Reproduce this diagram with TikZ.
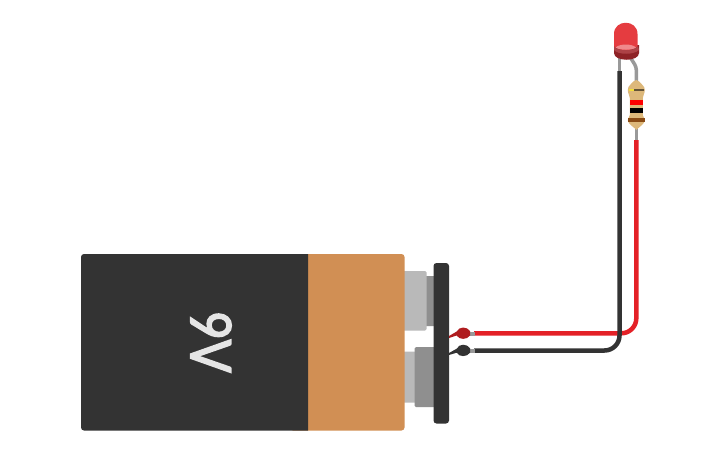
\documentclass[tikz,border=0pt]{standalone}
\usepackage{fontspec}
\setmainfont{Lato}
\newfontfamily\labelfont[FakeBold=3]{Lato}
\definecolor{bodydark}{HTML}{333333}
\definecolor{copper}{HTML}{D18F54}
\definecolor{termlight}{HTML}{B9B9B9}
\definecolor{termdark}{HTML}{8F8F8F}
\definecolor{wirered}{HTML}{E42127}
\definecolor{plugred}{HTML}{B01C1F}
\definecolor{lead}{HTML}{999999}
\definecolor{ledred}{HTML}{E53C40}
\definecolor{ledrim}{HTML}{8E2226}
\definecolor{ledrimtop}{HTML}{AD4246}
\definecolor{resbody}{HTML}{DDB87A}
\definecolor{resbrown}{HTML}{8A4B14}
\tikzset{
  wire/.style={line width=4.5pt,rounded corners=15pt},
  leadline/.style={draw=lead,line width=3.5pt},
  solid box/.style={rounded corners=#1,draw=none},
  solid box/.default=1.5pt
}
\begin{document}
\begin{tikzpicture}[x=1pt,y=-1pt]
\useasboundingbox (0,0) rectangle (725,453);
\fill[white] (0,0) rectangle (725,453);
% battery terminals
\fill[termdark,solid box] (420,276) rectangle (436,326);
\fill[termlight,solid box] (400,271) rectangle (426.5,330.5);
\fill[termlight,solid box] (400,351.5) rectangle (418,402.5);
\fill[termdark,solid box] (414.5,347) rectangle (436,407);
% battery body
\fill[copper,rounded corners=3pt] (290,254) rectangle (404.5,430.5);
\fill[bodydark,rounded corners=3pt] (81,254) -- (300,254) [sharp corners] -- (308,254) -- (308,430.5) -- (300,430.5) [rounded corners=3pt] -- (81,430.5) -- cycle;
\node[rotate=-90,text=black!10,inner sep=0pt,anchor=center] (label) at (211,342) {\scalebox{0.87}[1]{\labelfont\fontsize{56}{56}\selectfont 9V}};
% plate
\fill[bodydark,rounded corners=3pt] (433.5,263) rectangle (449,423.5);
% connector anchors
\coordinate (redplug) at (474,333.3);
\coordinate (blackplug) at (474,350.5);
\coordinate (resbottom) at (636.3,140);
\coordinate (ledleft) at (619.5,71);
% wires
\draw[wirered,wire] (redplug) -- (636.3,333.3) -- (resbottom);
\draw[bodydark,wire] (blackplug) -- (619.5,350.5) -- (ledleft);
% plugs
\fill[lead] (469,331.5) rectangle (475,335.5);
\fill[lead] (469,348.5) rectangle (475,352.5);
\fill[plugred] (449,336) -- (456.7,331.5) .. controls (459,326.3) and (467,326.3) .. (470,331) -- (470,335.5) .. controls (467,340) and (459,340) .. (456.7,335.5) -- (449,338) -- cycle;
\fill[bodydark] (449,353) -- (456.7,348.7) .. controls (459,343.5) and (467,343.5) .. (470,348.2) -- (470,352.7) .. controls (467,357.2) and (459,357.2) .. (456.7,352.7) -- (449,355) -- cycle;
% LED leads
\draw[leadline] (619.5,58) -- (ledleft);
\draw[leadline,rounded corners=3pt] (630.7,58) -- (636.3,67) -- (636.3,84);
\draw[leadline] (636.3,126) -- (resbottom);
% LED
\fill[ledrim] (614,45) -- (639,45) -- (639,53) .. controls (639,62) and (614,62) .. (614,53) -- cycle;
\fill[ledred] (614,50) -- (614,34) .. controls (614,19) and (637.5,19) .. (637.5,34) -- (637.5,50) .. controls (634,52) and (618,52) .. (614,50) -- cycle;
\fill[ledrim] (614,46.5) .. controls (618,51.5) and (634,51.5) .. (637.5,46.5) .. controls (639,47) and (639,50) .. (639,53) .. controls (636,57) and (617,57) .. (614,53) -- cycle;
\fill[ledrimtop] (614,46.5) .. controls (618,51.5) and (634,51.5) .. (637.5,46.5) .. controls (638.5,47.5) and (639,49) .. (639,50) .. controls (634,55) and (618,55) .. (614,50) -- cycle;
\fill[white,opacity=.4] (615.5,47.5) .. controls (620,43.5) and (632,43.5) .. (636,47.5) .. controls (632,50.5) and (620,50.5) .. (615.5,47.5) -- cycle;
% resistor
\fill[resbody] (636.3,80) .. controls (639,80) and (640,83) .. (642,84.5) .. controls (644,86) and (644.8,88) .. (644.8,90) .. controls (644.8,94) and (642.8,95) .. (642.8,98) -- (642.8,115) .. controls (642.8,117) and (644.8,118) .. (644.8,120) .. controls (644.8,124) and (639,127) .. (636.3,130) .. controls (634,127) and (627.8,124) .. (627.8,120) .. controls (627.8,118) and (629.8,117) .. (629.8,115) -- (629.8,98) .. controls (629.8,95) and (627.8,94) .. (627.8,90) .. controls (627.8,88) and (628.5,86) .. (630.5,84.5) .. controls (632.5,83) and (633.5,80) .. (636.3,80) -- cycle;
\fill[yellow!60!resbody] (628.5,89.2) rectangle (634,90.8);
\fill[black!55!resbody] (634,89.2) rectangle (644,90.8);
\fill[red] (629.8,100) rectangle (642.8,105);
\fill[black] (629.8,108) rectangle (642.8,113);
\fill[resbrown] (627.8,117.5) rectangle (644.8,121.5);
\end{tikzpicture}
\end{document}
